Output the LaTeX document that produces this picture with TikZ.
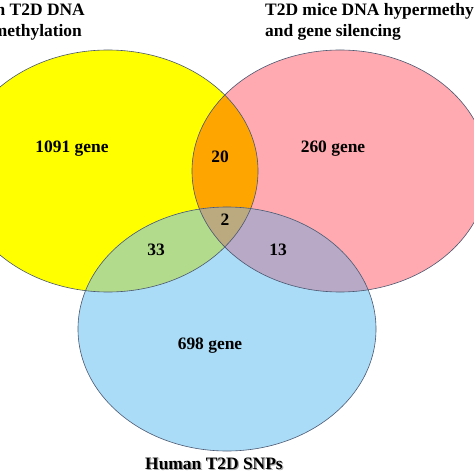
\documentclass[tikz,border=0pt]{standalone}
\usepackage{fontspec}
\setmainfont{Liberation Serif}
\usetikzlibrary{positioning}

\definecolor{vyellow}{HTML}{FFFF00}
\definecolor{vpink}{HTML}{FFAAB0}
\definecolor{vblue}{HTML}{ABDCF7}
\definecolor{vorange}{HTML}{FFA500}
\definecolor{vgreen}{HTML}{B2DB8C}
\definecolor{vpurple}{HTML}{B8A9C6}
\definecolor{vtan}{HTML}{BBA97F}
\definecolor{vedge}{HTML}{4A5770}

\newcommand\vennA{(108,171) ellipse [x radius=150bp, y radius=121bp]}
\newcommand\vennB{(340,171) ellipse [x radius=148bp, y radius=121bp]}
\newcommand\vennC{(227,329) ellipse [x radius=149bp, y radius=122bp]}

\begin{document}
\begin{tikzpicture}[
  x=1bp, y=-1bp,
  edge/.style={draw=vedge, line width=0.6bp},
  lbl/.style={font=\fontsize{17.5}{22}\selectfont\bfseries, anchor=base, inner sep=0pt},
  title/.style={lbl, anchor=base west, align=left},
]
\useasboundingbox (0,0) rectangle (474,474);
\clip (0,0) rectangle (474,474);

% sets
\fill[vyellow] \vennA;
\fill[vpink] \vennB;
\fill[vblue] \vennC;
\begin{scope}\clip \vennA; \fill[vorange] \vennB; \end{scope}
\begin{scope}\clip \vennA; \fill[vgreen] \vennC; \end{scope}
\begin{scope}\clip \vennB; \fill[vpurple] \vennC; \end{scope}
\begin{scope}\clip \vennA; \clip \vennB; \fill[vtan] \vennC; \end{scope}
\draw[edge] \vennA;
\draw[edge] \vennB;
\draw[edge] \vennC;

% counts
\node[lbl] (onlyA) at (72,153)  {1091 gene};
\node[lbl] (onlyB) at (333,153) {260 gene};
\node[lbl] (onlyC) at (210,349) {698 gene};
\node[lbl] (ab)    at (220,163) {20};
\node[lbl] (ac)    at (156,255) {33};
\node[lbl] (bc)    at (278,255) {13};
\node[lbl] (abc)   at (225,226) {2};

% set titles
\node[title] (titleA) at (-51,37) {Human T2D DNA\\hypermethylation};
\node[title] (titleB) at (265,37) {T2D mice DNA hypermethylation\\and gene silencing};
\node[lbl, anchor=base west, text=gray!70] (shadowC) at (146.2,470.2) {Human T2D SNPs};
\node[lbl, anchor=base west] (titleC) at (145,469) {Human T2D SNPs};
\end{tikzpicture}
\end{document}
